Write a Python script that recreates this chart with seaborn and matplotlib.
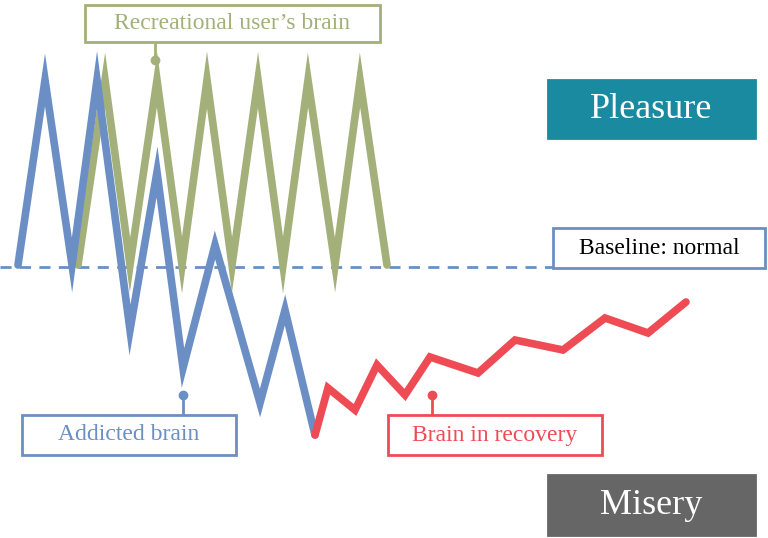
import matplotlib
matplotlib.use("Agg")
import matplotlib.pyplot as plt
import seaborn as sns
import pandas as pd
from matplotlib.patches import Rectangle

sns.set_theme(style="white")
plt.rcParams['font.family'] = ['Liberation Serif', 'DejaVu Serif']

green_x = [78, 105, 130, 157, 182, 207, 232, 258, 283, 308, 335, 360, 387]
green_y = [265, 80, 265, 80, 265, 80, 265, 80, 265, 80, 265, 80, 265]
blue_x = [18, 45, 72, 97, 130, 157, 183, 215, 260, 285, 315]
blue_y = [265, 80, 265, 80, 330, 172, 368, 245, 403, 310, 435]
red_x = [315, 328, 355, 377, 405, 430, 478, 515, 563, 605, 648, 686]
red_y = [435, 388, 410, 365, 395, 357, 373, 340, 350, 318, 333, 302]
baseline_y = 267

GREEN = "#a3b07a"; BLUE = "#6b8fc5"; RED = "#ef4b55"
TEAL = "#1a8aa0"; GREY = "#666666"

fig = plt.figure(figsize=(7.68, 5.38), dpi=100)
ax = fig.add_axes([0, 0, 1, 1])
ax.set_xlim(0, 768); ax.set_ylim(538, 0); ax.axis("off")

ax.plot([0, 555], [baseline_y, baseline_y], color=BLUE, lw=2, ls=(0, (4, 3)))
for xs, ys, c in [(green_x, green_y, GREEN), (blue_x, blue_y, BLUE), (red_x, red_y, RED)]:
    sns.lineplot(data=pd.DataFrame({"x": xs, "y": ys}), x="x", y="y", sort=False,
                 color=c, lw=5.5, ax=ax, solid_joinstyle="miter")
ax.set_xlim(0, 768); ax.set_ylim(538, 0); ax.axis("off")

def box(x0, y0, x1, y1, text, tc, ec=None, fc="white", size=17):
    ax.add_patch(Rectangle((x0, y0), x1 - x0, y1 - y0, fc=fc,
                           ec=ec if ec else fc, lw=2, zorder=5))
    ax.text((x0 + x1) / 2, (y0 + y1) / 2, text, color=tc, fontsize=size,
            ha="center", va="center", zorder=6)

def pin(x, y0, y1, c):
    ax.plot([x, x], [y0, y1], color=c, lw=2, zorder=4)
    ax.plot(x, y0, "o", color=c, ms=6, zorder=4)

pin(155, 60, 42, GREEN)
pin(183, 395, 415, BLUE)
pin(432, 395, 415, RED)
box(85, 5, 380, 42, "Recreational user\u2019s brain", GREEN, GREEN)
box(548, 80, 755, 138, "Pleasure", "white", fc=TEAL, size=26)
box(553, 228, 765, 268, "Baseline: normal", "black", BLUE)
box(22, 415, 236, 455, "Addicted brain", BLUE, BLUE)
box(388, 415, 602, 455, "Brain in recovery", RED, RED)
box(548, 475, 755, 535, "Misery", "white", fc=GREY, size=26)

fig.savefig("out.png", dpi=100)
